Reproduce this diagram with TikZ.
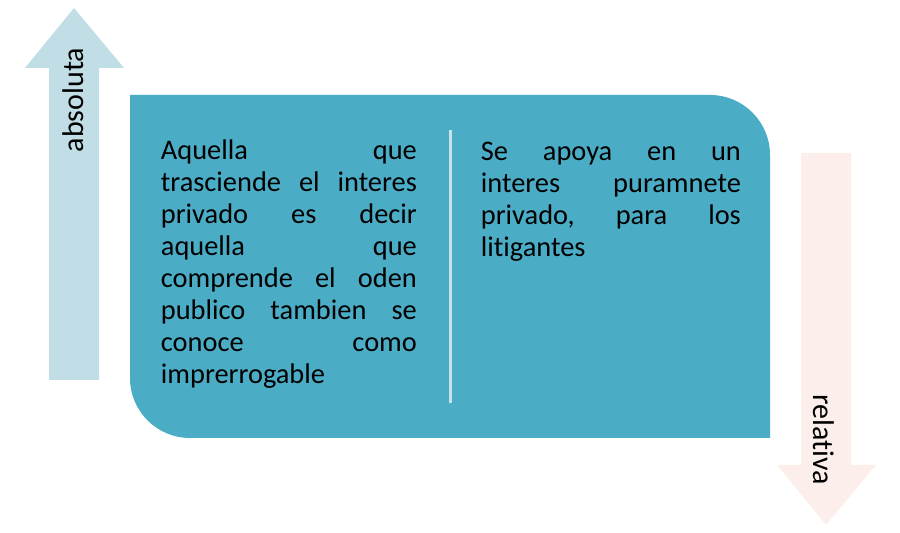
\documentclass[tikz,border=0pt]{standalone}
\usepackage{fontspec}
\setmainfont{Carlito}[Ligatures=NoCommon]
\usepackage{xcolor}
\usetikzlibrary{positioning}
\definecolor{cajaazul}{HTML}{4BACC6}
\definecolor{flechaazul}{HTML}{C1DDE6}
\definecolor{flecharosa}{HTML}{FCEEEA}
\definecolor{divisor}{HTML}{C9E1E8}
\tikzset{
  texto/.style={anchor=base west, inner sep=0pt, text width=#1, font=\fontsize{14.2}{16}\selectfont},
  etiqueta/.style={inner sep=0pt, font=\fontsize{15}{18}\selectfont}
}

\begin{document}
\begin{tikzpicture}[x=0.5pt, y=0.5pt]
\useasboundingbox (0,0) rectangle (900,533);
\fill [flechaazul] (49,153) -- (49,465) -- (25,465) -- (74,525) -- (124,465) -- (99,465) -- (99,153) -- cycle;
\fill [flecharosa] (801,380) -- (801,68) -- (777,68) -- (826,8) -- (876,68) -- (851,68) -- (851,380) -- cycle;
\fill [cajaazul] (130,438) -- (710,438) arc [start angle=90, end angle=0, radius=60] -- (770,95) -- (190,95) arc [start angle=270, end angle=180, radius=60] -- cycle;
\coordinate (arriba) at (450,403);
\coordinate (abajo) at (450,130);
\draw [divisor, line width=1.5pt] (arriba) -- (abajo);
\node [texto=128pt] (aquella) at (160.5,373) {Aquella\hfill que\\
trasciende\hfill el\hfill interes\\
privado\hfill es\hfill decir\\
aquella\hfill que\\
comprende\hfill el\hfill oden\\
publico\hfill tambien\hfill se\\
conoce\hfill como\\
imprerrogable};
\node [texto=130pt] (apoya) at (480.5,372) {Se\hfill apoya\hfill en\hfill un\\
interes\hfill puramnete\\
privado,\hfill para\hfill los\\
litigantes};
\node [etiqueta, rotate=90] (absoluta) at (73,433) {absoluta};
\node [etiqueta, rotate=-90] (relativa) at (824,93) {relativa};
\end{tikzpicture}
\end{document}
